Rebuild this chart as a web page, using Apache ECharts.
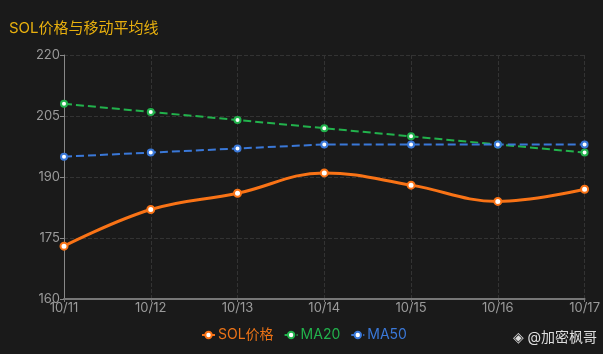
<!DOCTYPE html>
<html><head><meta charset="utf-8">
<script src="https://cdn.jsdelivr.net/npm/echarts@6/dist/echarts.min.js"></script>
<style>html,body{margin:0;padding:0;background:#1a1a1a;}#c{width:603px;height:354px;}</style>
</head><body><div id="c"></div>
<script>
const categories = ['10/11','10/12','10/13','10/14','10/15','10/16','10/17'];
const solPrice = [173, 182, 186, 191, 188, 184, 187];
const ma20 = [208, 206, 204, 202, 200, 198, 196];
const ma50 = [195, 196, 197, 198, 198, 198, 198];
const yTicks = [160, 175, 190, 205, 220];

const chart = echarts.init(document.getElementById('c'), null, {renderer:'canvas'});
const font = 'Inter, "Noto Sans CJK SC", sans-serif';
chart.setOption({
  backgroundColor: '#1a1a1a',
  animation: false,
  title: {text: 'SOL价格与移动平均线', left: 4, top: 16, textStyle: {color: '#e8b00e', fontSize: 15, fontWeight: 'normal', fontFamily: font}},
  legend: {bottom: 7, left: 196, itemWidth: 13, itemHeight: 8, itemGap: 10,
    textStyle: {fontSize: 14, fontFamily: font, padding: [0,0,0,-2]},
    data: [
      {name: 'SOL价格', textStyle: {color: '#ec7317'}},
      {name: 'MA20', textStyle: {color: '#22b24c'}},
      {name: 'MA50', textStyle: {color: '#3a78d8'}}
    ]},
  grid: {left: 64, right: 8, top: 55, bottom: 55},
  xAxis: {type: 'category', data: categories, boundaryGap: false,
    axisLine: {lineStyle: {color: '#777', width: 2}}, axisTick: {show: true, length: 3, lineStyle: {color: '#777'}},
    axisLabel: {color: '#9a9a9a', fontSize: 13, margin: 3, fontFamily: font},
    splitLine: {show: true, lineStyle: {color: '#333', type: 'dashed'}}},
  yAxis: {type: 'value', min: yTicks[0], max: yTicks[yTicks.length-1], interval: 15,
    axisLine: {show: true, lineStyle: {color: '#888'}}, axisTick: {show: true, length: 4, lineStyle: {color: '#888'}},
    axisLabel: {color: '#9a9a9a', fontSize: 13, margin: 4, fontFamily: font},
    splitLine: {show: true, lineStyle: {color: '#333', type: 'dashed'}}},
  series: [
    {name: 'SOL价格', type: 'line', data: solPrice, smooth: 0.4, symbol: 'emptyCircle', symbolSize: 7,
      lineStyle: {width: 3, color: '#f97316'}, itemStyle: {color: '#f97316', borderWidth: 2}},
    {name: 'MA20', type: 'line', data: ma20, symbol: 'emptyCircle', symbolSize: 6,
      lineStyle: {width: 2, type: 'dashed', color: '#22b24c'}, itemStyle: {color: '#22b24c', borderWidth: 2}},
    {name: 'MA50', type: 'line', data: ma50, symbol: 'emptyCircle', symbolSize: 6,
      lineStyle: {width: 2, type: 'dashed', color: '#3a78d8'}, itemStyle: {color: '#3a78d8', borderWidth: 2}}
  ],
  graphic: [
    {type: 'text', right: 6, bottom: 9, style: {text: '◈ @加密枫哥', fill: '#ddd', font: '14px ' + font}}
  ]
});
</script></body></html>
